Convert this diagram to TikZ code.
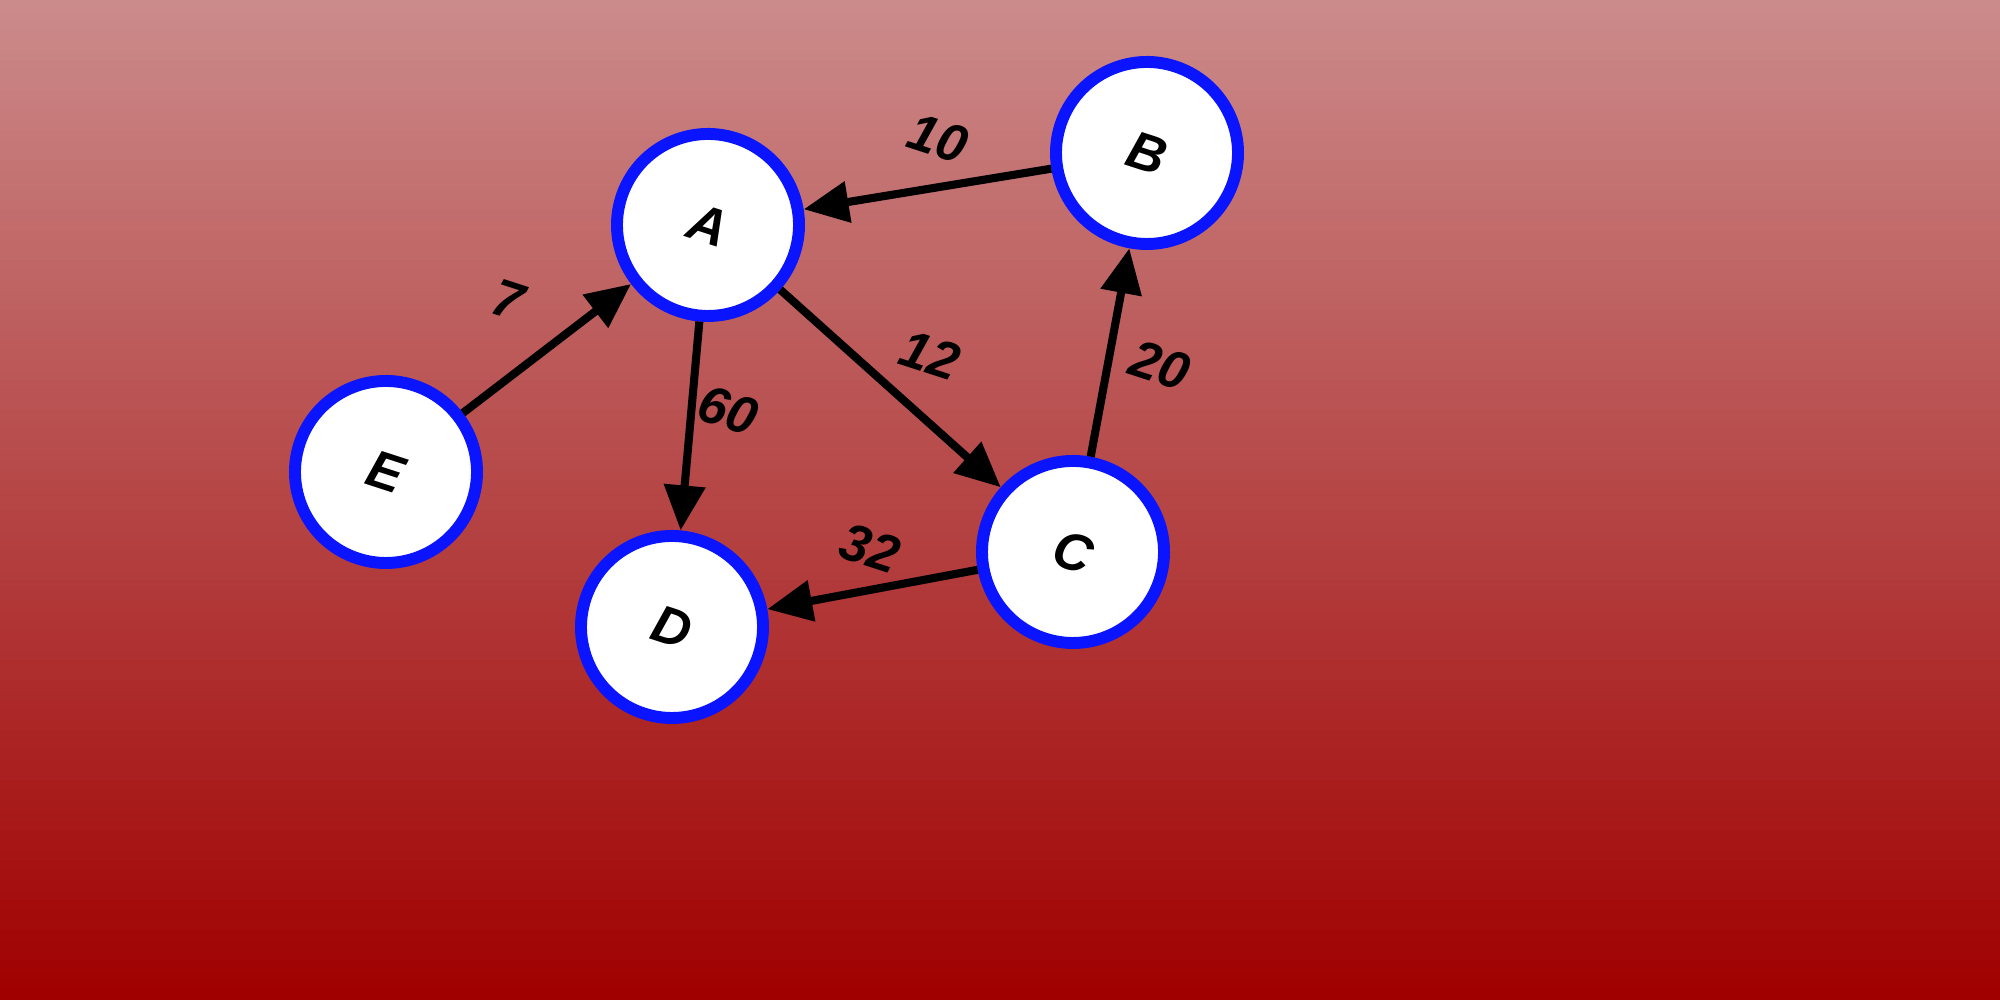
\documentclass[tikz,border=0pt]{standalone}
\usepackage{fontspec}
\setmainfont{Liberation Sans}
\usetikzlibrary{arrows.meta}
\definecolor{topc}{HTML}{A00000}
\definecolor{botc}{HTML}{CC8C8C}
\definecolor{ring}{HTML}{0A14FF}
\tikzset{
 vert/.style={circle,draw=ring,fill=white,line width=3.4pt,minimum size=1.82cm,inner sep=0pt,font=\fontsize{15}{15}\selectfont\bfseries\itshape,rotate=-18},
 edge/.style={line width=2.3pt,-{Triangle[length=0.45cm,width=0.4cm]}},
 wlab/.style={font=\fontsize{15}{15}\selectfont\bfseries\itshape,rotate=-18}
}
\begin{document}
\begin{tikzpicture}
\useasboundingbox (0,0) rectangle (20,10);
\foreach \i in {0,...,99}{
  \pgfmathsetmacro{\p}{\i}
  \fill[botc!\p!topc] (0,{\i*0.1}) rectangle (20,{\i*0.1+0.11});
}
\node[vert] (A) at (7.08,7.75) {A};
\node[vert] (B) at (11.47,8.47) {B};
\node[vert] (C) at (10.73,4.48) {C};
\node[vert] (D) at (6.72,3.73) {D};
\node[vert] (E) at (3.86,5.28) {E};
\draw[edge] (B) -- (A);
\draw[edge] (A) -- (C);
\draw[edge] (C) -- (B);
\draw[edge] (E) -- (A);
\draw[edge] (A) -- (D);
\draw[edge] (C) -- (D);
\node[wlab] (l1) at (9.38,8.62) {10};
\node[wlab] (l2) at (5.08,7.00) {7};
\node[wlab] (l3) at (9.30,6.45) {12};
\node[wlab] (l4) at (7.28,5.90) {60};
\node[wlab] (l5) at (11.60,6.35) {20};
\node[wlab] (l6) at (8.70,4.52) {32};
\end{tikzpicture}
\end{document}
